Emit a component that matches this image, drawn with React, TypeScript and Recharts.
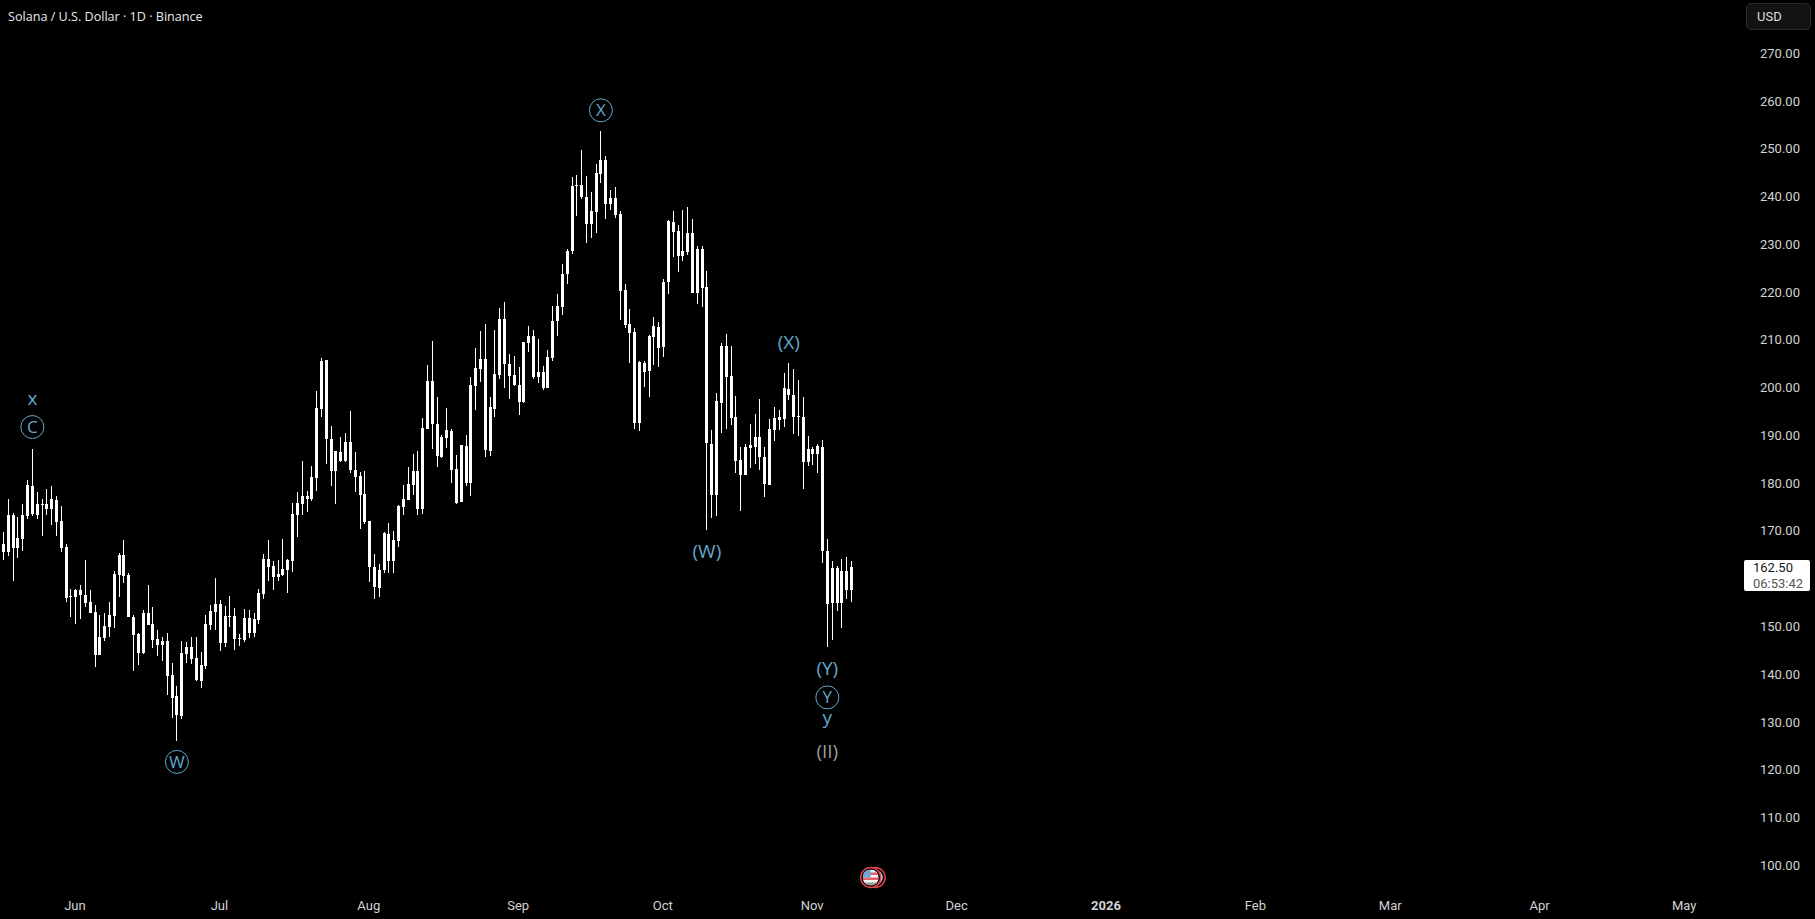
import { Bar, ComposedChart, ReferenceDot, XAxis, YAxis } from 'recharts'

// SOL/USD daily candles. Index 0 is 17 May 2025.
// Up and down candles are both white, so only body top/bottom are kept.
const highs = [
  169.7, 176.6, 173.6, 172.9, 175.6, 180.6, 187.2, 178.1, 176.6, 178.7,
  179.4, 177.3, 175.2, 167.2, 157.8, 157.8, 158.6, 163.9, 157.6, 154.4,
  152.4, 152.8, 155.1, 161.6, 165.3, 168.1, 161.1, 152.4, 148.6, 153.4,
  158.6, 154.0, 149.2, 147.8, 148.6, 142.3, 137.5, 146.9, 146.7, 147.8,
  147.8, 144.6, 152.4, 154.4, 160.1, 155.5, 154.2, 156.3, 153.8, 148.4,
  153.6, 153.4, 152.8, 157.8, 165.1, 168.1, 163.7, 163.9, 168.3, 164.1,
  175.8, 178.1, 184.6, 178.3, 183.5, 199.2, 206.2, 205.7, 191.9, 186.7,
  189.6, 190.5, 195.1, 186.5, 182.3, 182.5, 172.0, 165.1, 163.0, 169.7,
  171.6, 169.9, 175.4, 179.6, 183.3, 186.1, 186.7, 193.6, 204.7, 209.7,
  198.0, 190.0, 195.7, 191.3, 185.9, 187.9, 190.0, 202.2, 208.3, 211.8,
  213.3, 198.0, 212.0, 216.6, 217.9, 207.0, 206.6, 204.3, 209.5, 212.9,
  212.0, 210.1, 204.5, 207.8, 217.0, 219.5, 225.8, 229.0, 244.0, 244.5,
  249.7, 244.3, 240.9, 246.8, 253.7, 248.4, 241.3, 241.9, 236.9, 221.6,
  216.4, 212.4, 205.5, 205.5, 211.0, 214.7, 213.7, 222.7, 235.0, 236.9,
  234.0, 237.1, 237.8, 235.2, 229.6, 229.6, 224.4, 191.1, 198.8, 209.3,
  211.2, 208.7, 198.2, 187.5, 188.2, 192.3, 194.4, 197.6, 187.5, 193.4,
  195.9, 195.3, 203.0, 205.1, 203.9, 201.6, 198.0, 189.8, 187.5, 188.2,
  189.0, 168.3, 163.7, 162.6, 164.1, 164.5, 163.7,
]
const bodyTops = [
  167.2, 173.3, 173.3, 168.5, 173.3, 179.6, 179.4, 175.6, 175.6, 175.6,
  176.6, 176.4, 172.0, 166.6, 156.3, 157.6, 157.6, 156.5, 155.1, 153.0,
  147.8, 150.1, 152.4, 160.9, 164.9, 164.9, 160.7, 151.9, 148.4, 152.8,
  152.8, 150.5, 147.3, 146.9, 146.9, 139.8, 135.4, 144.4, 145.7, 145.7,
  143.4, 141.9, 150.5, 153.2, 154.7, 154.7, 152.1, 152.1, 152.1, 147.5,
  151.7, 151.7, 151.5, 157.0, 164.1, 164.1, 162.6, 160.9, 162.0, 163.9,
  173.5, 175.8, 177.3, 177.3, 181.2, 195.7, 205.5, 205.7, 189.2, 186.7,
  186.5, 188.6, 188.6, 182.7, 181.4, 177.7, 172.0, 162.4, 161.8, 169.5,
  169.3, 168.1, 175.2, 176.6, 179.8, 182.5, 182.5, 191.5, 201.3, 201.3,
  192.3, 189.6, 191.1, 190.9, 182.9, 187.9, 187.7, 200.5, 204.1, 205.9,
  205.9, 195.9, 202.8, 214.3, 214.3, 204.9, 202.6, 200.5, 209.5, 210.8,
  210.8, 203.2, 203.2, 206.4, 213.9, 217.0, 223.7, 228.6, 242.2, 242.4,
  242.4, 239.9, 236.9, 244.9, 247.6, 247.6, 239.6, 239.6, 236.3, 220.4,
  213.3, 211.6, 205.3, 205.1, 210.8, 212.8, 212.6, 222.1, 234.8, 234.6,
  232.7, 228.5, 232.3, 232.3, 229.0, 229.0, 221.0, 188.2, 197.2, 208.7,
  208.7, 202.4, 193.8, 184.8, 187.5, 187.9, 189.6, 189.6, 185.4, 191.3,
  193.6, 193.8, 199.9, 199.7, 198.4, 194.0, 193.8, 187.1, 187.1, 187.7,
  187.5, 165.8, 162.2, 162.2, 161.6, 161.6, 162.5,
]
const bodyBottoms = [
  165.5, 165.5, 166.4, 166.4, 168.3, 173.1, 173.4, 173.3, 175.4, 174.5,
  174.5, 171.8, 166.4, 155.9, 156.1, 156.1, 156.5, 154.9, 152.8, 144.0,
  144.0, 147.5, 149.8, 152.1, 160.7, 160.5, 151.9, 148.2, 144.4, 144.4,
  150.3, 147.1, 146.1, 146.1, 139.6, 135.0, 131.4, 131.2, 144.2, 143.1,
  138.7, 138.5, 141.7, 150.3, 153.0, 146.5, 146.5, 151.9, 147.3, 147.3,
  147.1, 148.6, 148.6, 151.3, 156.7, 162.4, 160.3, 160.3, 160.7, 161.8,
  163.7, 173.3, 175.6, 176.6, 176.6, 181.0, 195.5, 189.2, 182.5, 182.5,
  184.6, 184.6, 182.7, 181.2, 177.5, 171.8, 162.4, 158.2, 158.0, 161.8,
  163.7, 163.7, 167.8, 175.0, 176.4, 179.6, 174.5, 174.5, 191.3, 192.3,
  185.6, 185.4, 189.4, 182.7, 175.8, 176.0, 180.0, 180.0, 200.3, 203.9,
  186.9, 186.7, 195.5, 202.6, 204.9, 202.4, 200.5, 196.9, 196.9, 209.3,
  202.2, 202.2, 199.9, 199.9, 206.2, 213.9, 216.8, 223.7, 228.6, 242.2,
  239.9, 234.2, 234.2, 236.7, 244.7, 238.4, 238.4, 236.1, 220.2, 213.1,
  211.4, 192.5, 192.5, 203.2, 203.4, 210.5, 208.2, 208.4, 222.1, 232.5,
  227.5, 227.5, 228.3, 219.8, 219.8, 220.8, 188.4, 177.5, 177.5, 196.7,
  202.2, 193.6, 184.6, 181.7, 181.7, 187.3, 187.5, 185.4, 179.8, 179.6,
  191.1, 193.2, 193.4, 198.4, 193.8, 193.8, 184.4, 184.4, 186.1, 186.1,
  165.8, 154.7, 154.9, 154.9, 154.9, 157.6, 157.6,
]
const lows = [
  163.9, 164.7, 159.3, 164.3, 165.8, 172.5, 173.1, 172.5, 168.9, 173.3,
  171.2, 168.9, 165.5, 155.1, 151.9, 150.5, 151.5, 154.0, 152.8, 141.5,
  144.0, 146.9, 147.8, 149.6, 156.1, 159.1, 151.9, 140.6, 141.9, 144.2,
  150.3, 145.4, 143.8, 142.7, 135.6, 130.8, 126.0, 130.6, 142.3, 142.1,
  138.5, 137.1, 141.0, 149.2, 149.2, 144.8, 145.7, 149.8, 145.0, 145.9,
  146.7, 147.5, 147.7, 150.5, 155.7, 159.5, 157.6, 159.5, 160.5, 157.0,
  161.4, 168.7, 173.3, 173.9, 176.2, 178.3, 193.8, 184.0, 179.4, 175.6,
  184.4, 184.4, 182.1, 178.1, 170.3, 171.4, 159.3, 155.7, 156.1, 161.1,
  161.1, 161.1, 166.6, 173.3, 176.4, 177.5, 173.3, 173.5, 191.3, 187.1,
  183.3, 185.2, 187.3, 180.0, 175.6, 176.0, 179.4, 177.3, 195.3, 201.1,
  185.4, 185.6, 193.8, 201.8, 199.9, 197.6, 200.3, 194.2, 196.7, 207.4,
  201.8, 200.9, 199.5, 199.9, 205.5, 210.8, 215.2, 221.6, 227.9, 235.9,
  239.4, 230.2, 231.3, 232.3, 242.8, 235.2, 237.1, 235.5, 214.1, 212.4,
  205.1, 191.3, 190.9, 200.1, 198.0, 204.7, 204.3, 206.4, 219.5, 227.3,
  224.1, 226.5, 227.7, 219.8, 217.5, 216.8, 170.2, 172.7, 173.1, 190.5,
  191.3, 192.1, 182.1, 174.1, 181.7, 183.1, 184.0, 182.7, 177.1, 179.6,
  188.8, 191.1, 191.7, 197.4, 190.2, 189.8, 178.7, 183.5, 183.8, 182.1,
  163.2, 145.7, 147.1, 153.2, 149.6, 155.7, 155.1,
]

const monthTicks = [15, 45, 76, 107, 137, 168, 198, 229, 260, 288, 319, 349]
const monthLabels = ['Jun', 'Jul', 'Aug', 'Sep', 'Oct', 'Nov', 'Dec', '2026', 'Feb', 'Mar', 'Apr', 'May']
const priceTicks = [100, 110, 120, 130, 140, 150, 160, 170, 180, 190, 200, 210, 220, 230, 240, 250, 260, 270]

// Elliott wave marks, placed by candle index and price
const waveMarks = [
  { i: 6, price: 197.5, text: 'x', circled: false, color: '#62a8cc' },
  { i: 6, price: 191.7, text: 'C', circled: true, color: '#62a8cc' },
  { i: 36, price: 121.6, text: 'W', circled: true, color: '#62a8cc' },
  { i: 124, price: 258.0, text: 'X', circled: true, color: '#62a8cc' },
  { i: 146, price: 165.5, text: '(W)', circled: false, color: '#62a8cc' },
  { i: 163, price: 209.3, text: '(X)', circled: false, color: '#62a8cc' },
  { i: 171, price: 141.05, text: '(Y)', circled: false, color: '#62a8cc' },
  { i: 171, price: 135.1, text: 'Y', circled: true, color: '#62a8cc' },
  { i: 171, price: 130.8, text: 'y', circled: false, color: '#62a8cc' },
  { i: 171, price: 123.7, text: '(II)', circled: false, color: '#9e9e9e' },
]

const chartData = highs.map((high, i) => ({
  i,
  range: [lows[i], high],
  high,
  low: lows[i],
  bodyTop: bodyTops[i],
  bodyBottom: bodyBottoms[i],
}))

const UI_FONT = 'Roboto, sans-serif'
const AXIS_COLOR = '#d3d3d3'

function Candle(props: any) {
  const { x, y, width, height, payload } = props
  const top = Math.min(y, y + height)
  const span = Math.abs(height)
  const pxPerUnit = span / (payload.high - payload.low)
  const wickX = Math.floor(x + width / 2)
  const bodyY = Math.round(top + (payload.high - payload.bodyTop) * pxPerUnit)
  const bodyEnd = Math.round(top + (payload.high - payload.bodyBottom) * pxPerUnit)
  return (
    <g shapeRendering="crispEdges" fill="#ffffff">
      <rect x={wickX} y={Math.round(top)} width={1} height={Math.max(1, Math.round(span))} />
      <rect x={wickX - 1} y={bodyY} width={3} height={Math.max(1, bodyEnd - bodyY)} />
    </g>
  )
}

function MonthTick({ x, y, payload }: any) {
  const label = monthLabels[monthTicks.indexOf(payload.value)]
  return (
    <text
      x={x - 0.8}
      y={y}
      dy={17}
      textAnchor="middle"
      fontFamily={UI_FONT}
      fontSize={13}
      fontWeight={label === '2026' ? 700 : 400}
      fill={AXIS_COLOR}
    >
      {label}
    </text>
  )
}

function PriceTick({ x, y, payload }: any) {
  return (
    <text x={x + 12} y={y} dy={4.8} fontFamily={UI_FONT} fontSize={13} fill={AXIS_COLOR}>
      {payload.value.toFixed(2)}
    </text>
  )
}

function WaveMark({ cx, cy, mark }: any) {
  return (
    <g>
      {mark.circled && <circle cx={cx} cy={cy} r={11.5} fill="none" stroke={mark.color} strokeWidth={1} />}
      <text
        x={cx}
        y={cy}
        dy={6}
        textAnchor="middle"
        fontFamily="'Open Sans', sans-serif"
        fontSize={mark.circled ? 17 : 19}
        fill={mark.color}
      >
        {mark.text}
      </text>
    </g>
  )
}

function FlagMark({ cx, cy }: any) {
  const flagClip = 'flag-clip'
  return (
    <g>
      <circle cx={cx + 4.5} cy={cy} r={10} fill="#000" stroke="#e2404c" strokeWidth={1.5} />
      <circle cx={cx + 4.5} cy={cy} r={7.5} fill="#e8e8e8" />
      <circle cx={cx} cy={cy} r={10} fill="#000" stroke="#e2404c" strokeWidth={1.5} />
      <clipPath id={flagClip}>
        <circle cx={cx} cy={cy} r={8} />
      </clipPath>
      <g clipPath={`url(#${flagClip})`}>
        <rect x={cx - 8} y={cy - 8} width={16} height={16} fill="#f2f2f2" />
        <rect x={cx - 8} y={cy - 5} width={16} height={2.5} fill="#e2606a" />
        <rect x={cx - 8} y={cy} width={16} height={2.5} fill="#e2606a" />
        <rect x={cx - 8} y={cy + 5} width={16} height={3} fill="#999" />
        <rect x={cx - 8} y={cy - 8} width={8} height={8} fill="#6aa9d4" />
      </g>
    </g>
  )
}

export default function App() {
  return (
    <div style={{ position: 'absolute', left: 0, top: 0, width: 1815, height: 919, background: '#000', overflow: 'hidden' }}>
      <ComposedChart width={1815} height={919} data={chartData} margin={{ top: 0, right: 0, bottom: 0, left: 0 }}>
        <XAxis
          dataKey="i"
          type="number"
          domain={[-0.716, 360.43]}
          ticks={monthTicks}
          interval={0}
          height={34}
          axisLine={false}
          tickLine={false}
          tick={<MonthTick />}
          allowDataOverflow
        />
        <YAxis
          orientation="right"
          type="number"
          domain={[95.83, 281.09]}
          ticks={priceTicks}
          interval={0}
          width={75}
          axisLine={false}
          tickLine={false}
          tick={<PriceTick />}
          allowDataOverflow
        />
        <Bar dataKey="range" barSize={3} shape={<Candle />} isAnimationActive={false} />
        {waveMarks.map((mark) => (
          <ReferenceDot
            key={mark.text + mark.i}
            x={mark.i}
            y={mark.price}
            r={1}
            shape={(p: any) => <WaveMark cx={p.cx} cy={p.cy} mark={mark} />}
          />
        ))}
        <ReferenceDot x={180} y={97.4} r={1} shape={(p: any) => <FlagMark cx={p.cx} cy={p.cy} />} />
      </ComposedChart>

      <div style={{ position: 'absolute', left: 8, top: 8, fontFamily: "'Open Sans', sans-serif", fontSize: 12.6, color: '#e8e8e8', whiteSpace: 'nowrap', fontWeight: 500 }}>
        Solana / U.S. Dollar · 1D · Binance
      </div>
      <div style={{ position: 'absolute', left: 1746, top: 3, width: 65, height: 27, boxSizing: 'border-box', background: '#121212', border: '1px solid #2a2a2a', borderRadius: 5, fontFamily: UI_FONT, fontSize: 13, lineHeight: '25px', paddingLeft: 10, color: '#dcdcdc' }}>
        USD
      </div>
      <div style={{ position: 'absolute', left: 1744, top: 560, width: 66, height: 31, background: '#fff', borderRadius: 2, fontFamily: UI_FONT, fontSize: 13, lineHeight: '15.5px', paddingLeft: 9, boxSizing: 'border-box', color: '#131722' }}>
        <div>162.50</div>
        <div style={{ color: '#555' }}>06:53:42</div>
      </div>
    </div>
  )
}
